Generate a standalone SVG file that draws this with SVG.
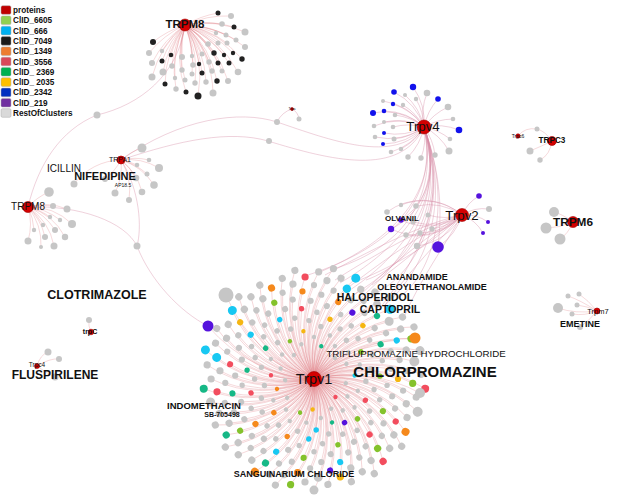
<svg xmlns="http://www.w3.org/2000/svg" width="624" height="495" viewBox="0 0 624 495">
<style>
text{font-family:'Liberation Sans',Arial,sans-serif;fill:#111}
.b{font-weight:bold}
.e{fill:none;stroke:#de7a80;stroke-width:0.5;stroke-opacity:0.55}
.el{fill:none;stroke:#d58aa6;stroke-width:0.6;stroke-opacity:0.65}
.hub{fill:#d40000;stroke:#a00000;stroke-width:0.6}
.g{fill:#c6c6c6}
.n circle{fill:#c6c6c6}
.n circle.r{fill:#f24d5e}.n circle.y{fill:#f5b612}.n circle.t{fill:#16b886}.n circle.a{fill:#84c22c}
.n circle.o{fill:#f5891c}.n circle.b{fill:#18c8f2}.n circle.p{fill:#5512dd}
.k{fill:#222}.u{fill:#1212ec}.pp{fill:#5512dd}
</style>
<rect width="624" height="495" fill="#fff"/>

<g id="legend">
<rect x="1" y="5.7" width="10" height="8.6" rx="1.5" fill="#c00000" stroke="#aaa" stroke-width="0.5"/><text class="b" x="13" y="13" font-size="8.2">proteins</text>
<rect x="1" y="16" width="10" height="8.6" rx="1.5" fill="#92d050" stroke="#aaa" stroke-width="0.5"/><text class="b" x="13" y="23.3" font-size="8.2">ClID_6605</text>
<rect x="1" y="26.3" width="10" height="8.6" rx="1.5" fill="#00b0f0" stroke="#aaa" stroke-width="0.5"/><text class="b" x="13" y="33.6" font-size="8.2">ClID_666</text>
<rect x="1" y="36.6" width="10" height="8.6" rx="1.5" fill="#1a1a1a" stroke="#aaa" stroke-width="0.5"/><text class="b" x="13" y="43.9" font-size="8.2">ClID_7049</text>
<rect x="1" y="46.9" width="10" height="8.6" rx="1.5" fill="#ed7d31" stroke="#aaa" stroke-width="0.5"/><text class="b" x="13" y="54.2" font-size="8.2">ClID_1349</text>
<rect x="1" y="57.2" width="10" height="8.6" rx="1.5" fill="#d9485a" stroke="#aaa" stroke-width="0.5"/><text class="b" x="13" y="64.5" font-size="8.2">ClID_3556</text>
<rect x="1" y="67.5" width="10" height="8.6" rx="1.5" fill="#00b050" stroke="#aaa" stroke-width="0.5"/><text class="b" x="13" y="74.8" font-size="8.2">ClID_ 2369</text>
<rect x="1" y="77.8" width="10" height="8.6" rx="1.5" fill="#ffc000" stroke="#aaa" stroke-width="0.5"/><text class="b" x="13" y="85.1" font-size="8.2">ClID_ 2035</text>
<rect x="1" y="88.1" width="10" height="8.6" rx="1.5" fill="#0030c0" stroke="#aaa" stroke-width="0.5"/><text class="b" x="13" y="95.4" font-size="8.2">ClID_2342</text>
<rect x="1" y="98.4" width="10" height="8.6" rx="1.5" fill="#7030a0" stroke="#aaa" stroke-width="0.5"/><text class="b" x="13" y="105.7" font-size="8.2">ClID_219</text>
<rect x="1" y="108.7" width="10" height="8.6" rx="1.5" fill="#d9d9d9" stroke="#aaa" stroke-width="0.5"/><text class="b" x="13" y="116" font-size="8.2">RestOfClusters</text>
</g>

<g id="connectors">
<g class="el">
<path d="M28 207C38 165 60 130 97 115"/>
<path d="M185 25C178 75 140 105 97 115"/>
<path d="M121 160C180 118 240 110 277 122C330 140 395 165 424 127"/>
<path d="M121 160C180 140 230 130 268 141C330 160 400 178 424 127"/>
<path d="M28 207C80 205 125 222 137 246"/>
<path d="M121 160C140 190 142 228 137 246"/>
<path d="M137 246C150 280 180 312 208 326"/>
<path d="M292 109Q282 112 277 122"/>
<path d="M292 109Q298 112 299 119"/>
<path d="M424 127C440 180 420 215 391 229"/>
<path d="M424 127C440 170 425 205 401 220"/>
<path d="M424 127C445 185 440 225 438 247"/>
<path d="M424 127C442 185 430 225 417 246"/>
<path d="M424 127C448 190 405 245 340 283"/>
<path d="M424 127C446 192 410 250 350 290"/>
<path d="M424 127C444 195 412 255 358 300"/>
<path d="M424 127C440 200 400 250 330 270"/>
<path d="M424 127C450 195 420 260 372 318"/>
<path d="M424 127C448 200 418 262 366 280"/>
<path d="M424 127C452 205 425 270 385 305"/>
<path d="M424 127C445 210 415 260 345 300"/>
<path d="M424 127C440 190 395 240 320 272"/>
<path d="M424 127C455 210 430 280 395 300"/>
<path d="M424 127C438 196 398 246 305 276"/>
<path d="M424 127C450 200 422 268 378 292"/>
<path d="M462 215C430 228 390 255 345 290"/>
<path d="M462 215C432 232 395 262 360 295"/>
<path d="M462 215C430 225 385 248 335 280"/>
<path d="M462 215C440 240 410 270 385 305"/>
<path d="M462 215C435 235 400 265 372 285"/>
<path d="M462 215C445 245 420 280 405 315"/>
<path d="M462 215C428 222 380 245 325 275"/>
<path d="M462 215C438 238 405 262 355 282"/>
</g>
<g class="e">
<path d="M185 25A100 100 0 0 1 218 13"/><path d="M185 25A100 100 0 0 1 231 16"/><path d="M185 25A100 100 0 0 1 222 24"/><path d="M185 25A100 100 0 0 1 234 27"/><path d="M185 25A100 100 0 0 1 245 32"/><path d="M185 25A100 100 0 0 1 216 33"/><path d="M185 25A100 100 0 0 1 226 35"/><path d="M185 25A100 100 0 0 0 153 42"/><path d="M185 25A100 100 0 0 1 208 44"/><path d="M185 25A100 100 0 0 1 218 43"/><path d="M185 25A100 100 0 0 1 227 43"/><path d="M185 25A100 100 0 0 1 236 40"/><path d="M185 25A100 100 0 0 1 245 47"/><path d="M185 25A100 100 0 0 0 162 51"/><path d="M185 25A100 100 0 0 0 149 53"/><path d="M185 25A100 100 0 0 0 171 55"/><path d="M185 25A100 100 0 0 1 192 56"/><path d="M185 25A100 100 0 0 1 202 54"/><path d="M185 25A100 100 0 0 1 214 53"/><path d="M185 25A100 100 0 0 1 224 55"/><path d="M185 25A100 100 0 0 1 233 53"/><path d="M185 25A100 100 0 0 1 242 59"/><path d="M185 25A100 100 0 0 0 162 61"/><path d="M185 25A100 100 0 0 0 152 63"/><path d="M185 25A100 100 0 0 0 182 57"/><path d="M185 25A100 100 0 0 0 172 66"/><path d="M185 25A100 100 0 0 1 193 65"/><path d="M185 25A100 100 0 0 1 199 64"/><path d="M185 25A100 100 0 0 1 209 62"/><path d="M185 25A100 100 0 0 1 218 63"/><path d="M185 25A100 100 0 0 1 229 63"/><path d="M185 25A100 100 0 0 0 163 72"/><path d="M185 25A100 100 0 0 0 152 77"/><path d="M185 25A100 100 0 0 0 182 70"/><path d="M185 25A100 100 0 0 1 192 74"/><path d="M185 25A100 100 0 0 1 202 73"/><path d="M185 25A100 100 0 0 1 212 71"/><path d="M185 25A100 100 0 0 1 222 71"/><path d="M185 25A100 100 0 0 1 238 72"/><path d="M185 25A100 100 0 0 0 175 78"/><path d="M185 25A100 100 0 0 0 185 80"/><path d="M185 25A100 100 0 0 1 195 83"/><path d="M185 25A100 100 0 0 1 206 82"/><path d="M185 25A100 100 0 0 1 217 81"/><path d="M185 25A100 100 0 0 1 228 81"/><path d="M185 25A100 100 0 0 0 165 84"/><path d="M185 25A100 100 0 0 0 176 89"/><path d="M185 25A100 100 0 0 0 186 92"/><path d="M185 25A100 100 0 0 1 198 96"/><path d="M185 25A100 100 0 0 1 213 93"/>
</g>
<g class="e">
<path d="M28 207A60 60 0 0 1 49 192"/><path d="M28 207A60 60 0 0 1 53 206"/><path d="M28 207A60 60 0 0 1 67 209"/><path d="M28 207A60 60 0 0 1 50 217"/><path d="M28 207A60 60 0 0 1 60 220"/><path d="M28 207A60 60 0 0 1 43 225"/><path d="M28 207A60 60 0 0 1 72 224"/><path d="M28 207A60 60 0 0 1 34 230"/><path d="M28 207A60 60 0 0 1 45 237"/><path d="M28 207A60 60 0 0 1 55 230"/><path d="M28 207A60 60 0 0 1 65 237"/><path d="M28 207A60 60 0 0 1 28 241"/><path d="M28 207A60 60 0 0 1 41 247"/><path d="M28 207A60 60 0 0 1 54 246"/>
<path d="M121 160A60 60 0 0 1 142 148"/><path d="M121 160A60 60 0 0 1 149 160"/><path d="M121 160A60 60 0 0 1 159 168"/><path d="M121 160A60 60 0 0 1 137 165"/><path d="M121 160A60 60 0 0 1 147 174"/><path d="M121 160A60 60 0 0 1 136 178"/><path d="M121 160A60 60 0 0 1 154 185"/><path d="M121 160A60 60 0 0 1 142 192"/><path d="M121 160A60 60 0 0 1 129 200"/><path d="M121 160A60 60 0 0 1 115 193"/><path d="M121 160A60 60 0 0 1 105 179"/><path d="M121 160A60 60 0 0 0 74 184"/>
</g>
<g class="el">
<path d="M424 127A60 60 0 0 0 413 87"/><path d="M424 127A60 60 0 0 0 394 92"/><path d="M424 127A60 60 0 0 0 405 95"/><path d="M424 127A60 60 0 0 1 427 93"/><path d="M424 127A60 60 0 0 1 438 99"/><path d="M424 127A60 60 0 0 0 383 101"/><path d="M424 127A60 60 0 0 0 393 104"/><path d="M424 127A60 60 0 0 0 403 105"/><path d="M424 127A60 60 0 0 0 416 99"/><path d="M424 127A60 60 0 0 0 373 113"/><path d="M424 127A60 60 0 0 0 384 111"/><path d="M424 127A60 60 0 0 0 395 115"/><path d="M424 127A60 60 0 0 1 448 107"/><path d="M424 127A60 60 0 0 1 453 119"/><path d="M424 127A60 60 0 0 1 459 130"/><path d="M424 127A60 60 0 0 0 374 126"/><path d="M424 127A60 60 0 0 0 384 122"/><path d="M424 127A60 60 0 0 0 393 127"/><path d="M424 127A60 60 0 0 1 384 133"/><path d="M424 127A60 60 0 0 1 375 137"/><path d="M424 127A60 60 0 0 1 394 139"/><path d="M424 127A60 60 0 0 1 383 144"/><path d="M424 127A60 60 0 0 1 450 139"/><path d="M424 127A60 60 0 0 1 401 149"/><path d="M424 127A60 60 0 0 1 391 152"/><path d="M424 127A60 60 0 0 1 449 151"/><path d="M424 127A60 60 0 0 1 408 157"/><path d="M424 127A60 60 0 0 1 421 158"/><path d="M424 127A60 60 0 0 1 435 155"/>
<path d="M462 215A40 40 0 0 1 479 196"/><path d="M462 215A40 40 0 0 1 489 209"/><path d="M462 215A40 40 0 0 1 488 222"/><path d="M462 215A40 40 0 0 1 483 233"/><path d="M462 215A60 60 0 0 0 401 205"/><path d="M462 215A60 60 0 0 0 416 206"/><path d="M462 215A60 60 0 0 0 387 212"/><path d="M462 215A60 60 0 0 1 401 220"/><path d="M462 215A60 60 0 0 1 413 222"/><path d="M462 215A60 60 0 0 1 428 215"/><path d="M462 215A60 60 0 0 1 391 229"/><path d="M462 215A60 60 0 0 1 406 235"/><path d="M462 215A60 60 0 0 1 420 233"/><path d="M462 215A60 60 0 0 1 432 229"/><path d="M462 215A60 60 0 0 1 417 246"/><path d="M462 215A60 60 0 0 1 438 247"/>
</g>
<g class="e" stroke-opacity="0.8">
<path d="M518 136Q525 127 537 129"/><path d="M552 141Q545 131 537 129"/><path d="M552 141Q542 146 530 151"/><path d="M552 141Q550 155 540 160"/>
<path d="M573 222Q562 214 554 212"/><path d="M573 222Q560 228 546 228"/><path d="M573 222Q568 234 560 239"/>
<path d="M597 311Q580 300 568 296"/><path d="M597 311Q588 300 579 294"/><path d="M597 311Q587 306 577 305"/><path d="M597 311Q575 314 558 308"/><path d="M597 311Q585 316 572 314"/><path d="M597 311Q588 322 580 327"/>
<path d="M91 332Q88 326 89 320"/>
<path d="M37 366Q40 355 48 352"/><path d="M37 366Q50 358 59 359"/><path d="M37 366Q48 374 55 377"/>
</g>
<g class="e" transform="translate(314 379)" stroke-opacity="0.6">
<path d="M0 0A120 120 0 0 1 28 0" transform="rotate(2200)"/>
<path d="M0 0A120 120 0 0 1 28.9 0" transform="rotate(2337.5)"/>
<path d="M0 0A120 120 0 0 1 29.7 0" transform="rotate(2475)"/>
<path d="M0 0A120 120 0 0 1 30.5 0" transform="rotate(2612.5)"/>
<path d="M0 0A120 120 0 0 1 31.3 0" transform="rotate(2750)"/>
<path d="M0 0A120 120 0 0 1 32.1 0" transform="rotate(2887.5)"/>
<path d="M0 0A120 120 0 0 1 32.8 0" transform="rotate(3025)"/>
<path d="M0 0A120 120 0 0 1 33.6 0" transform="rotate(3162.5)"/>
<path d="M0 0A120 120 0 0 1 34.3 0" transform="rotate(3300)"/>
<path d="M0 0A120 120 0 0 1 35 0" transform="rotate(3437.5)"/>
<path d="M0 0A120 120 0 0 1 35.7 0" transform="rotate(3575)"/>
<path d="M0 0A120 120 0 0 1 36.4 0" transform="rotate(3712.5)"/>
<path d="M0 0A120 120 0 0 1 37 0" transform="rotate(3850)"/>
<path d="M0 0A120 120 0 0 1 37.7 0" transform="rotate(3987.5)"/>
<path d="M0 0A120 120 0 0 1 38.3 0" transform="rotate(4125)"/>
<path d="M0 0A120 120 0 0 1 39 0" transform="rotate(4262.5)"/>
<path d="M0 0A120 120 0 0 1 39.6 0" transform="rotate(4400)"/>
<path d="M0 0A120 120 0 0 1 40.2 0" transform="rotate(4537.5)"/>
<path d="M0 0A120 120 0 0 1 40.8 0" transform="rotate(4675)"/>
<path d="M0 0A120 120 0 0 1 41.4 0" transform="rotate(4812.5)"/>
<path d="M0 0A120 120 0 0 1 42 0" transform="rotate(4950)"/>
<path d="M0 0A120 120 0 0 1 42.6 0" transform="rotate(5087.5)"/>
<path d="M0 0A120 120 0 0 1 43.2 0" transform="rotate(5225)"/>
<path d="M0 0A120 120 0 0 1 43.7 0" transform="rotate(5362.5)"/>
<path d="M0 0A120 120 0 0 1 44.3 0" transform="rotate(5500)"/>
<path d="M0 0A120 120 0 0 1 44.8 0" transform="rotate(5637.5)"/>
<path d="M0 0A120 120 0 0 1 45.4 0" transform="rotate(5775)"/>
<path d="M0 0A120 120 0 0 1 45.9 0" transform="rotate(5912.5)"/>
<path d="M0 0A120 120 0 0 1 46.4 0" transform="rotate(6050)"/>
<path d="M0 0A120 120 0 0 1 47 0" transform="rotate(6187.5)"/>
<path d="M0 0A120 120 0 0 1 47.5 0" transform="rotate(6325)"/>
<path d="M0 0A120 120 0 0 1 48 0" transform="rotate(6462.5)"/>
<path d="M0 0A120 120 0 0 1 48.5 0" transform="rotate(6600)"/>
<path d="M0 0A120 120 0 0 1 49 0" transform="rotate(6737.5)"/>
<path d="M0 0A120 120 0 0 1 49.5 0" transform="rotate(6875)"/>
<path d="M0 0A120 120 0 0 1 50 0" transform="rotate(7012.5)"/>
<path d="M0 0A120 120 0 0 1 50.5 0" transform="rotate(7150)"/>
<path d="M0 0A120 120 0 0 1 51 0" transform="rotate(7287.5)"/>
<path d="M0 0A120 120 0 0 1 51.4 0" transform="rotate(7425)"/>
<path d="M0 0A120 120 0 0 1 51.9 0" transform="rotate(7562.5)"/>
<path d="M0 0A120 120 0 0 1 52.4 0" transform="rotate(7700)"/>
<path d="M0 0A120 120 0 0 1 52.9 0" transform="rotate(7837.5)"/>
<path d="M0 0A120 120 0 0 1 53.3 0" transform="rotate(7975)"/>
<path d="M0 0A120 120 0 0 1 53.8 0" transform="rotate(8112.5)"/>
<path d="M0 0A120 120 0 0 1 54.2 0" transform="rotate(8250)"/>
<path d="M0 0A120 120 0 0 1 54.7 0" transform="rotate(8387.5)"/>
<path d="M0 0A120 120 0 0 1 55.1 0" transform="rotate(8525)"/>
<path d="M0 0A120 120 0 0 1 55.6 0" transform="rotate(8662.5)"/>
<path d="M0 0A120 120 0 0 1 56 0" transform="rotate(8800)"/>
<path d="M0 0A120 120 0 0 1 56.4 0" transform="rotate(8937.5)"/>
<path d="M0 0A120 120 0 0 1 56.9 0" transform="rotate(9075)"/>
<path d="M0 0A120 120 0 0 1 57.3 0" transform="rotate(9212.5)"/>
<path d="M0 0A120 120 0 0 1 57.7 0" transform="rotate(9350)"/>
<path d="M0 0A120 120 0 0 1 58.2 0" transform="rotate(9487.5)"/>
<path d="M0 0A120 120 0 0 1 58.6 0" transform="rotate(9625)"/>
<path d="M0 0A120 120 0 0 1 59 0" transform="rotate(9762.5)"/>
<path d="M0 0A120 120 0 0 1 59.4 0" transform="rotate(9900)"/>
<path d="M0 0A120 120 0 0 1 59.8 0" transform="rotate(10037.5)"/>
<path d="M0 0A120 120 0 0 1 60.2 0" transform="rotate(10175)"/>
<path d="M0 0A120 120 0 0 1 60.6 0" transform="rotate(10312.5)"/>
<path d="M0 0A120 120 0 0 1 61 0" transform="rotate(10450)"/>
<path d="M0 0A120 120 0 0 1 61.4 0" transform="rotate(10587.5)"/>
<path d="M0 0A120 120 0 0 1 61.8 0" transform="rotate(10725)"/>
<path d="M0 0A120 120 0 0 1 62.2 0" transform="rotate(10862.5)"/>
<path d="M0 0A120 120 0 0 1 62.6 0" transform="rotate(11000)"/>
<path d="M0 0A120 120 0 0 1 63 0" transform="rotate(11137.5)"/>
<path d="M0 0A120 120 0 0 1 63.4 0" transform="rotate(11275)"/>
<path d="M0 0A120 120 0 0 1 63.8 0" transform="rotate(11412.5)"/>
<path d="M0 0A120 120 0 0 1 64.2 0" transform="rotate(11550)"/>
<path d="M0 0A120 120 0 0 1 64.5 0" transform="rotate(11687.5)"/>
<path d="M0 0A120 120 0 0 1 64.9 0" transform="rotate(11825)"/>
<path d="M0 0A120 120 0 0 1 65.3 0" transform="rotate(11962.5)"/>
<path d="M0 0A120 120 0 0 1 65.7 0" transform="rotate(12100)"/>
<path d="M0 0A120 120 0 0 1 66 0" transform="rotate(12237.5)"/>
<path d="M0 0A120 120 0 0 1 66.4 0" transform="rotate(12375)"/>
<path d="M0 0A120 120 0 0 1 66.8 0" transform="rotate(12512.5)"/>
<path d="M0 0A120 120 0 0 1 67.1 0" transform="rotate(12650)"/>
<path d="M0 0A120 120 0 0 1 67.5 0" transform="rotate(12787.5)"/>
<path d="M0 0A120 120 0 0 1 67.9 0" transform="rotate(12925)"/>
<path d="M0 0A120 120 0 0 1 68.2 0" transform="rotate(13062.5)"/>
<path d="M0 0A120 120 0 0 1 68.6 0" transform="rotate(13200)"/>
<path d="M0 0A120 120 0 0 1 68.9 0" transform="rotate(13337.5)"/>
<path d="M0 0A120 120 0 0 1 69.3 0" transform="rotate(13475)"/>
<path d="M0 0A120 120 0 0 1 69.7 0" transform="rotate(13612.5)"/>
<path d="M0 0A120 120 0 0 1 70 0" transform="rotate(13750)"/>
<path d="M0 0A120 120 0 0 1 70.4 0" transform="rotate(13887.5)"/>
<path d="M0 0A120 120 0 0 1 70.7 0" transform="rotate(14025)"/>
<path d="M0 0A120 120 0 0 1 71 0" transform="rotate(14162.5)"/>
<path d="M0 0A120 120 0 0 1 71.4 0" transform="rotate(14300)"/>
<path d="M0 0A120 120 0 0 1 71.7 0" transform="rotate(14437.5)"/>
<path d="M0 0A120 120 0 0 1 72.1 0" transform="rotate(14575)"/>
<path d="M0 0A120 120 0 0 1 72.4 0" transform="rotate(14712.5)"/>
<path d="M0 0A120 120 0 0 1 72.8 0" transform="rotate(14850)"/>
<path d="M0 0A120 120 0 0 1 73.1 0" transform="rotate(14987.5)"/>
<path d="M0 0A120 120 0 0 1 73.4 0" transform="rotate(15125)"/>
<path d="M0 0A120 120 0 0 1 73.8 0" transform="rotate(15262.5)"/>
<path d="M0 0A120 120 0 0 1 74.1 0" transform="rotate(15400)"/>
<path d="M0 0A120 120 0 0 1 74.4 0" transform="rotate(15537.5)"/>
<path d="M0 0A120 120 0 0 1 74.7 0" transform="rotate(15675)"/>
<path d="M0 0A120 120 0 0 1 75.1 0" transform="rotate(15812.5)"/>
<path d="M0 0A120 120 0 0 1 75.4 0" transform="rotate(15950)"/>
<path d="M0 0A120 120 0 0 1 75.7 0" transform="rotate(16087.5)"/>
<path d="M0 0A120 120 0 0 1 76 0" transform="rotate(16225)"/>
<path d="M0 0A120 120 0 0 1 76.4 0" transform="rotate(16362.5)"/>
<path d="M0 0A120 120 0 0 1 76.7 0" transform="rotate(16500)"/>
<path d="M0 0A120 120 0 0 1 77 0" transform="rotate(16637.5)"/>
<path d="M0 0A120 120 0 0 1 77.3 0" transform="rotate(16775)"/>
<path d="M0 0A120 120 0 0 1 77.6 0" transform="rotate(16912.5)"/>
<path d="M0 0A120 120 0 0 1 78 0" transform="rotate(17050)"/>
<path d="M0 0A120 120 0 0 1 78.3 0" transform="rotate(17187.5)"/>
<path d="M0 0A120 120 0 0 1 78.6 0" transform="rotate(17325)"/>
<path d="M0 0A120 120 0 0 1 78.9 0" transform="rotate(17462.5)"/>
<path d="M0 0A120 120 0 0 1 79.2 0" transform="rotate(17600)"/>
<path d="M0 0A120 120 0 0 1 79.5 0" transform="rotate(17737.5)"/>
<path d="M0 0A120 120 0 0 1 79.8 0" transform="rotate(17875)"/>
<path d="M0 0A120 120 0 0 1 80.1 0" transform="rotate(18012.5)"/>
<path d="M0 0A120 120 0 0 1 80.4 0" transform="rotate(18150)"/>
<path d="M0 0A120 120 0 0 1 80.7 0" transform="rotate(18287.5)"/>
<path d="M0 0A120 120 0 0 1 81 0" transform="rotate(18425)"/>
<path d="M0 0A120 120 0 0 1 81.3 0" transform="rotate(18562.5)"/>
<path d="M0 0A120 120 0 0 1 81.6 0" transform="rotate(18700)"/>
<path d="M0 0A120 120 0 0 1 81.9 0" transform="rotate(18837.5)"/>
<path d="M0 0A120 120 0 0 1 82.2 0" transform="rotate(18975)"/>
<path d="M0 0A120 120 0 0 1 82.5 0" transform="rotate(19112.5)"/>
<path d="M0 0A120 120 0 0 1 82.8 0" transform="rotate(19250)"/>
<path d="M0 0A120 120 0 0 1 83.1 0" transform="rotate(19387.5)"/>
<path d="M0 0A120 120 0 0 1 83.4 0" transform="rotate(19525)"/>
<path d="M0 0A120 120 0 0 1 83.7 0" transform="rotate(19662.5)"/>
<path d="M0 0A120 120 0 0 1 84 0" transform="rotate(19800)"/>
<path d="M0 0A120 120 0 0 1 84.3 0" transform="rotate(19937.5)"/>
<path d="M0 0A120 120 0 0 1 84.6 0" transform="rotate(20075)"/>
<path d="M0 0A120 120 0 0 1 84.9 0" transform="rotate(20212.5)"/>
<path d="M0 0A120 120 0 0 1 85.2 0" transform="rotate(20350)"/>
<path d="M0 0A120 120 0 0 1 85.4 0" transform="rotate(20487.5)"/>
<path d="M0 0A120 120 0 0 1 85.7 0" transform="rotate(20625)"/>
<path d="M0 0A120 120 0 0 1 86 0" transform="rotate(20762.5)"/>
<path d="M0 0A120 120 0 0 1 86.3 0" transform="rotate(20900)"/>
<path d="M0 0A120 120 0 0 1 86.6 0" transform="rotate(21037.5)"/>
<path d="M0 0A120 120 0 0 1 86.9 0" transform="rotate(21175)"/>
<path d="M0 0A120 120 0 0 1 87.1 0" transform="rotate(21312.5)"/>
<path d="M0 0A120 120 0 0 1 87.4 0" transform="rotate(21450)"/>
<path d="M0 0A120 120 0 0 1 87.7 0" transform="rotate(21587.5)"/>
<path d="M0 0A120 120 0 0 1 88 0" transform="rotate(21725)"/>
<path d="M0 0A120 120 0 0 1 88.3 0" transform="rotate(21862.5)"/>
<path d="M0 0A120 120 0 0 1 88.5 0" transform="rotate(22000)"/>
<path d="M0 0A120 120 0 0 1 88.8 0" transform="rotate(22137.5)"/>
<path d="M0 0A120 120 0 0 1 89.1 0" transform="rotate(22275)"/>
<path d="M0 0A120 120 0 0 1 89.4 0" transform="rotate(22412.5)"/>
<path d="M0 0A120 120 0 0 1 89.6 0" transform="rotate(22550)"/>
<path d="M0 0A120 120 0 0 1 89.9 0" transform="rotate(22687.5)"/>
<path d="M0 0A120 120 0 0 1 90.2 0" transform="rotate(22825)"/>
<path d="M0 0A120 120 0 0 1 90.5 0" transform="rotate(22962.5)"/>
<path d="M0 0A120 120 0 0 1 90.7 0" transform="rotate(23100)"/>
<path d="M0 0A120 120 0 0 1 91 0" transform="rotate(23237.5)"/>
<path d="M0 0A120 120 0 0 1 91.3 0" transform="rotate(23375)"/>
<path d="M0 0A120 120 0 0 1 91.5 0" transform="rotate(23512.5)"/>
<path d="M0 0A120 120 0 0 1 91.8 0" transform="rotate(23650)"/>
<path d="M0 0A120 120 0 0 1 92.1 0" transform="rotate(23787.5)"/>
<path d="M0 0A120 120 0 0 1 92.3 0" transform="rotate(23925)"/>
<path d="M0 0A120 120 0 0 1 92.6 0" transform="rotate(24062.5)"/>
<path d="M0 0A120 120 0 0 1 92.9 0" transform="rotate(24200)"/>
<path d="M0 0A120 120 0 0 1 93.1 0" transform="rotate(24337.5)"/>
<path d="M0 0A120 120 0 0 1 93.4 0" transform="rotate(24475)"/>
<path d="M0 0A120 120 0 0 1 93.7 0" transform="rotate(24612.5)"/>
<path d="M0 0A120 120 0 0 1 93.9 0" transform="rotate(24750)"/>
<path d="M0 0A120 120 0 0 1 94.2 0" transform="rotate(24887.5)"/>
<path d="M0 0A120 120 0 0 1 94.4 0" transform="rotate(25025)"/>
<path d="M0 0A120 120 0 0 1 94.7 0" transform="rotate(25162.5)"/>
<path d="M0 0A120 120 0 0 1 95 0" transform="rotate(25300)"/>
<path d="M0 0A120 120 0 0 1 95.2 0" transform="rotate(25437.5)"/>
<path d="M0 0A120 120 0 0 1 95.5 0" transform="rotate(25575)"/>
<path d="M0 0A120 120 0 0 1 95.7 0" transform="rotate(25712.5)"/>
<path d="M0 0A120 120 0 0 1 96 0" transform="rotate(25850)"/>
<path d="M0 0A120 120 0 0 1 96.2 0" transform="rotate(25987.5)"/>
<path d="M0 0A120 120 0 0 1 96.5 0" transform="rotate(26125)"/>
<path d="M0 0A120 120 0 0 1 96.7 0" transform="rotate(26262.5)"/>
<path d="M0 0A120 120 0 0 1 97 0" transform="rotate(26400)"/>
<path d="M0 0A120 120 0 0 1 97.2 0" transform="rotate(26537.5)"/>
<path d="M0 0A120 120 0 0 1 97.5 0" transform="rotate(26675)"/>
<path d="M0 0A120 120 0 0 1 97.8 0" transform="rotate(26812.5)"/>
<path d="M0 0A120 120 0 0 1 98 0" transform="rotate(26950)"/>
<path d="M0 0A120 120 0 0 1 98.3 0" transform="rotate(27087.5)"/>
<path d="M0 0A120 120 0 0 1 98.5 0" transform="rotate(27225)"/>
<path d="M0 0A120 120 0 0 1 98.8 0" transform="rotate(27362.5)"/>
<path d="M0 0A120 120 0 0 1 99 0" transform="rotate(27500)"/>
<path d="M0 0A120 120 0 0 1 99.2 0" transform="rotate(27637.5)"/>
<path d="M0 0A120 120 0 0 1 99.5 0" transform="rotate(27775)"/>
<path d="M0 0A120 120 0 0 1 99.7 0" transform="rotate(27912.5)"/>
<path d="M0 0A120 120 0 0 1 100 0" transform="rotate(28050)"/>
<path d="M0 0A120 120 0 0 1 100.2 0" transform="rotate(28187.5)"/>
<path d="M0 0A120 120 0 0 1 100.5 0" transform="rotate(28325)"/>
<path d="M0 0A120 120 0 0 1 100.7 0" transform="rotate(28462.5)"/>
<path d="M0 0A120 120 0 0 1 101 0" transform="rotate(28600)"/>
<path d="M0 0A120 120 0 0 1 101.2 0" transform="rotate(28737.5)"/>
<path d="M0 0A120 120 0 0 1 101.4 0" transform="rotate(28875)"/>
<path d="M0 0A120 120 0 0 1 101.7 0" transform="rotate(29012.5)"/>
<path d="M0 0A120 120 0 0 1 101.9 0" transform="rotate(29150)"/>
<path d="M0 0A120 120 0 0 1 102.2 0" transform="rotate(29287.5)"/>
<path d="M0 0A120 120 0 0 1 102.4 0" transform="rotate(29425)"/>
<path d="M0 0A120 120 0 0 1 102.6 0" transform="rotate(29562.5)"/>
<path d="M0 0A120 120 0 0 1 102.9 0" transform="rotate(29700)"/>
<path d="M0 0A120 120 0 0 1 103.1 0" transform="rotate(29837.5)"/>
<path d="M0 0A120 120 0 0 1 103.4 0" transform="rotate(29975)"/>
<path d="M0 0A120 120 0 0 1 103.6 0" transform="rotate(30112.5)"/>
<path d="M0 0A120 120 0 0 1 103.8 0" transform="rotate(30250)"/>
<path d="M0 0A120 120 0 0 1 104.1 0" transform="rotate(30387.5)"/>
<path d="M0 0A120 120 0 0 1 104.3 0" transform="rotate(30525)"/>
<path d="M0 0A120 120 0 0 1 104.5 0" transform="rotate(30662.5)"/>
<path d="M0 0A120 120 0 0 1 104.8 0" transform="rotate(30800)"/>
<path d="M0 0A120 120 0 0 1 105 0" transform="rotate(30937.5)"/>
<path d="M0 0A120 120 0 0 1 105.2 0" transform="rotate(31075)"/>
<path d="M0 0A120 120 0 0 1 105.5 0" transform="rotate(31212.5)"/>
<path d="M0 0A120 120 0 0 1 105.7 0" transform="rotate(31350)"/>
<path d="M0 0A120 120 0 0 1 105.9 0" transform="rotate(31487.5)"/>
<path d="M0 0A120 120 0 0 1 106.2 0" transform="rotate(31625)"/>
<path d="M0 0A120 120 0 0 1 106.4 0" transform="rotate(31762.5)"/>
<path d="M0 0A120 120 0 0 1 106.6 0" transform="rotate(31900)"/>
<path d="M0 0A120 120 0 0 1 106.9 0" transform="rotate(32037.5)"/>
<path d="M0 0A120 120 0 0 1 107.1 0" transform="rotate(32175)"/>
<path d="M0 0A120 120 0 0 1 107.3 0" transform="rotate(32312.5)"/>
<path d="M0 0A120 120 0 0 1 107.5 0" transform="rotate(32450)"/>
<path d="M0 0A120 120 0 0 1 107.8 0" transform="rotate(32587.5)"/>
<path d="M0 0A120 120 0 0 1 108 0" transform="rotate(32725)"/>
<path d="M0 0A120 120 0 0 1 108.2 0" transform="rotate(32862.5)"/>
<path d="M0 0A120 120 0 0 1 108.4 0" transform="rotate(33000)"/>
<path d="M0 0A120 120 0 0 1 108.7 0" transform="rotate(33137.5)"/>
<path d="M0 0A120 120 0 0 1 108.9 0" transform="rotate(33275)"/>
<path d="M0 0A120 120 0 0 1 109.1 0" transform="rotate(33412.5)"/>
<path d="M0 0A120 120 0 0 1 109.3 0" transform="rotate(33550)"/>
<path d="M0 0A120 120 0 0 1 109.6 0" transform="rotate(33687.5)"/>
<path d="M0 0A120 120 0 0 1 109.8 0" transform="rotate(33825)"/>
<path d="M0 0A120 120 0 0 1 110 0" transform="rotate(33962.5)"/>
<path d="M0 0A120 120 0 0 1 110.2 0" transform="rotate(34100)"/>
<path d="M0 0A120 120 0 0 1 110.5 0" transform="rotate(34237.5)"/>
<path d="M0 0A120 120 0 0 1 110.7 0" transform="rotate(34375)"/>
<path d="M0 0A120 120 0 0 1 110.9 0" transform="rotate(34512.5)"/>
<path d="M0 0A120 120 0 0 1 111.1 0" transform="rotate(34650)"/>
<path d="M0 0A120 120 0 0 1 111.3 0" transform="rotate(34787.5)"/>
<path d="M0 0A120 120 0 0 1 111.6 0" transform="rotate(34925)"/>
<path d="M0 0A120 120 0 0 1 111.8 0" transform="rotate(35062.5)"/>
<path d="M0 0A120 120 0 0 1 112 0" transform="rotate(35200)"/>
<path d="M0 0A120 120 0 0 1 112.2 0" transform="rotate(35337.5)"/>
<path d="M0 0A120 120 0 0 1 112.4 0" transform="rotate(35475)"/>
<path d="M0 0A120 120 0 0 1 112.7 0" transform="rotate(35612.5)"/>
<path d="M0 0A120 120 0 0 1 112.9 0" transform="rotate(35750)"/>
<path d="M0 0A150 150 0 0 1 -88 -84"/>
<path d="M0 0A150 150 0 0 1 -106 -53"/>
<path d="M0 0A150 150 0 0 1 101 -41"/>
<path d="M0 0A150 150 0 0 1 106 14"/>
</g>
</g>

<g id="nodes">
<g id="cluster-trpm8-top">
<circle class="k" cx="218" cy="13" r="2.5"/><circle class="g" cx="231" cy="16" r="3"/><circle class="g" cx="222" cy="24" r="2.8"/><circle class="k" cx="234" cy="27" r="2.5"/><circle class="g" cx="245" cy="32" r="3.5"/><circle class="g" cx="216" cy="33" r="2.2"/><circle class="g" cx="226" cy="35" r="2.5"/><circle class="k" cx="153" cy="42" r="3"/><circle class="g" cx="208" cy="44" r="2.8"/><circle class="g" cx="218" cy="43" r="2.5"/><circle class="g" cx="227" cy="43" r="2.5"/><circle class="g" cx="236" cy="40" r="2.5"/><circle class="g" cx="245" cy="47" r="3"/><circle class="g" cx="162" cy="51" r="2.2"/><circle class="g" cx="149" cy="53" r="3"/><circle class="k" cx="171" cy="55" r="2.3"/><circle class="g" cx="192" cy="56" r="2.2"/><circle class="g" cx="202" cy="54" r="2.5"/><circle class="k" cx="214" cy="53" r="2.7"/><circle class="k" cx="224" cy="55" r="2.2"/><circle class="k" cx="233" cy="53" r="2.2"/><circle class="k" cx="242" cy="59" r="2.7"/><circle class="k" cx="162" cy="61" r="2.5"/><circle class="g" cx="152" cy="63" r="3"/><circle class="g" cx="182" cy="57" r="3"/><circle class="g" cx="172" cy="66" r="2.8"/><circle class="g" cx="193" cy="65" r="2.8"/><circle class="k" cx="199" cy="64" r="2.2"/><circle class="g" cx="209" cy="62" r="2.7"/><circle class="k" cx="218" cy="63" r="2.5"/><circle class="k" cx="229" cy="63" r="2.5"/><circle class="g" cx="163" cy="72" r="3.5"/><circle class="g" cx="152" cy="77" r="3.5"/><circle class="g" cx="182" cy="70" r="2.7"/><circle class="g" cx="192" cy="74" r="2.5"/><circle class="k" cx="202" cy="73" r="2.5"/><circle class="g" cx="212" cy="71" r="2.7"/><circle class="g" cx="222" cy="71" r="2.5"/><circle class="g" cx="238" cy="72" r="3.3"/><circle class="g" cx="175" cy="78" r="2.2"/><circle class="g" cx="185" cy="80" r="2.5"/><circle class="g" cx="195" cy="83" r="2.7"/><circle class="g" cx="206" cy="82" r="2.7"/><circle class="k" cx="217" cy="81" r="2.7"/><circle class="g" cx="228" cy="81" r="3"/><circle class="k" cx="165" cy="84" r="2.5"/><circle class="g" cx="176" cy="89" r="2.7"/><circle class="k" cx="186" cy="92" r="2.5"/><circle class="k" cx="198" cy="96" r="3.5"/><circle class="g" cx="213" cy="93" r="3.5"/>
</g>
<g id="cluster-trpm8-left">
<circle class="g" cx="49" cy="192" r="4.8"/><circle class="g" cx="53" cy="206" r="3"/><circle class="g" cx="67" cy="209" r="3.5"/><circle class="g" cx="50" cy="217" r="2.2"/><circle class="g" cx="60" cy="220" r="2.2"/><circle class="g" cx="43" cy="225" r="2.2"/><circle class="g" cx="72" cy="224" r="4"/><circle class="g" cx="34" cy="230" r="2.2"/><circle class="g" cx="45" cy="237" r="3"/><circle class="g" cx="55" cy="230" r="3"/><circle class="g" cx="65" cy="237" r="3.2"/><circle class="g" cx="28" cy="241" r="3.5"/><circle class="g" cx="41" cy="247" r="2"/><circle class="g" cx="54" cy="246" r="3.5"/>
<circle class="g" cx="137" cy="246" r="3.5"/><circle class="g" cx="97" cy="115" r="3.5"/>
</g>
<g id="cluster-trpa1">
<circle class="g" cx="142" cy="148" r="4.5"/><circle class="g" cx="149" cy="160" r="2.3"/><circle class="g" cx="159" cy="168" r="4"/><circle class="g" cx="137" cy="165" r="2.3"/><circle class="g" cx="147" cy="174" r="2.5"/><circle class="g" cx="136" cy="178" r="3.3"/><circle class="g" cx="154" cy="185" r="3.8"/><circle class="g" cx="142" cy="192" r="3.3"/><circle class="g" cx="129" cy="200" r="3"/><circle class="g" cx="115" cy="193" r="3.5"/><circle class="g" cx="105" cy="179" r="3"/><circle class="g" cx="74" cy="184" r="3.5"/>
</g>
<g id="cluster-small-trp">
<circle class="g" cx="277" cy="122" r="3"/><circle class="g" cx="299" cy="119" r="2.5"/><circle class="g" cx="269" cy="141" r="3"/>
</g>
<g id="cluster-trpv4">
<circle class="u" cx="413" cy="87" r="3.2"/><circle class="u" cx="394" cy="92" r="2.8"/><circle class="g" cx="405" cy="95" r="2"/><circle class="g" cx="427" cy="93" r="3.3"/><circle class="u" cx="438" cy="99" r="2.8"/><circle class="g" cx="383" cy="101" r="2"/><circle class="u" cx="393" cy="104" r="2.2"/><circle class="g" cx="403" cy="105" r="2.2"/><circle class="g" cx="416" cy="99" r="2.2"/><circle class="u" cx="373" cy="113" r="3"/><circle class="u" cx="384" cy="111" r="2.3"/><circle class="g" cx="395" cy="115" r="2.3"/><circle class="g" cx="448" cy="107" r="3.3"/><circle class="g" cx="453" cy="119" r="2.3"/><circle class="u" cx="459" cy="130" r="3.3"/><circle class="g" cx="374" cy="126" r="2.3"/><circle class="g" cx="384" cy="122" r="2"/><circle class="g" cx="393" cy="127" r="2.3"/><circle class="u" cx="384" cy="133" r="2"/><circle class="g" cx="375" cy="137" r="2.3"/><circle class="g" cx="394" cy="139" r="2.5"/><circle class="u" cx="383" cy="144" r="2"/><circle class="g" cx="450" cy="139" r="2.3"/><circle class="g" cx="401" cy="149" r="2.3"/><circle class="g" cx="391" cy="152" r="2.3"/><circle class="g" cx="449" cy="151" r="3.5"/><circle class="g" cx="408" cy="157" r="2.7"/><circle class="g" cx="421" cy="158" r="2.7"/><circle class="g" cx="435" cy="155" r="2.7"/>
</g>
<g id="cluster-trpv2">
<circle class="pp" cx="479" cy="196" r="2.8"/><circle class="g" cx="489" cy="209" r="3"/><circle class="pp" cx="488" cy="222" r="2"/><circle class="pp" cx="483" cy="233" r="2"/><circle class="g" cx="401" cy="205" r="2.2"/><circle class="g" cx="416" cy="206" r="2.8"/><circle class="g" cx="387" cy="212" r="2.8"/><circle class="pp" cx="401" cy="220" r="2.8"/><circle class="g" cx="413" cy="222" r="2.5"/><circle class="g" cx="428" cy="215" r="2.5"/><circle class="pp" cx="391" cy="229" r="3.2"/><circle class="g" cx="406" cy="235" r="2.7"/><circle class="g" cx="420" cy="233" r="2.7"/><circle class="g" cx="432" cy="229" r="2.7"/><circle class="g" cx="417" cy="246" r="3.2"/><circle class="pp" cx="438" cy="247" r="5.8"/>
</g>
<g id="cluster-others">
<circle class="g" cx="537" cy="129" r="2.5"/><circle class="g" cx="530" cy="151" r="3.5"/><circle class="g" cx="540" cy="160" r="2.7"/>
<circle class="g" cx="554" cy="212" r="5"/><circle class="g" cx="546" cy="228" r="5.5"/><circle class="g" cx="560" cy="239" r="5.5"/>
<circle class="g" cx="568" cy="296" r="2.5"/><circle class="g" cx="579" cy="294" r="2.5"/><circle class="g" cx="577" cy="305" r="2.5"/><circle class="g" cx="558" cy="308" r="5"/><circle class="g" cx="572" cy="314" r="2.5"/><circle class="g" cx="580" cy="327" r="3"/>
<circle class="g" cx="89" cy="320" r="3"/>
<circle class="g" cx="48" cy="352" r="3.5"/><circle class="g" cx="59" cy="359" r="3"/><circle class="g" cx="55" cy="377" r="3.5"/>
</g>
<g id="cluster-trpv1" class="n" transform="translate(314 379)">
<circle class="r" cx="28" r="2.2" transform="rotate(2200)"/>
<circle cx="28.9" r="2.2" transform="rotate(2337.5)"/>
<circle cx="29.7" r="2.2" transform="rotate(2475)"/>
<circle class="y" cx="30.5" r="2.2" transform="rotate(2612.5)"/>
<circle cx="31.3" r="2.2" transform="rotate(2750)"/>
<circle cx="32.1" r="2.2" transform="rotate(2887.5)"/>
<circle cx="32.8" r="2.2" transform="rotate(3025)"/>
<circle class="t" cx="33.6" r="2.2" transform="rotate(3162.5)"/>
<circle cx="34.3" r="2.2" transform="rotate(3300)"/>
<circle cx="35" r="2.2" transform="rotate(3437.5)"/>
<circle cx="35.7" r="2.2" transform="rotate(3575)"/>
<circle class="a" cx="36.4" r="2.2" transform="rotate(3712.5)"/>
<circle cx="37" r="2.2" transform="rotate(3850)"/>
<circle cx="37.7" r="2.2" transform="rotate(3987.5)"/>
<circle class="o" cx="38.3" r="2.2" transform="rotate(4125)"/>
<circle cx="39" r="2.2" transform="rotate(4262.5)"/>
<circle cx="39.6" r="2.2" transform="rotate(4400)"/>
<circle cx="40.2" r="2.2" transform="rotate(4537.5)"/>
<circle class="b" cx="40.8" r="2.2" transform="rotate(4675)"/>
<circle cx="41.4" r="2.2" transform="rotate(4812.5)"/>
<circle cx="42" r="2.2" transform="rotate(4950)"/>
<circle cx="42.6" r="2.2" transform="rotate(5087.5)"/>
<circle class="r" cx="43.2" r="2.2" transform="rotate(5225)"/>
<circle cx="43.7" r="2.2" transform="rotate(5362.5)"/>
<circle cx="44.3" r="2.2" transform="rotate(5500)"/>
<circle class="a" cx="44.8" r="2.2" transform="rotate(5637.5)"/>
<circle cx="45.4" r="2.2" transform="rotate(5775)"/>
<circle cx="45.9" r="2.2" transform="rotate(5912.5)"/>
<circle cx="46.4" r="2.2" transform="rotate(6050)"/>
<circle class="t" cx="47" r="2.2" transform="rotate(6187.5)"/>
<circle cx="47.5" r="2.2" transform="rotate(6325)"/>
<circle cx="48" r="2.2" transform="rotate(6462.5)"/>
<circle cx="48.5" r="2.2" transform="rotate(6600)"/>
<circle class="y" cx="49" r="2.2" transform="rotate(6737.5)"/>
<circle cx="49.5" r="2.2" transform="rotate(6875)"/>
<circle cx="50" r="2.7" transform="rotate(7012.5)"/>
<circle cx="50.5" r="2.7" transform="rotate(7150)"/>
<circle class="b" cx="51" r="2.7" transform="rotate(7287.5)"/>
<circle cx="51.4" r="2.7" transform="rotate(7425)"/>
<circle cx="51.9" r="2.7" transform="rotate(7562.5)"/>
<circle class="o" cx="52.4" r="2.7" transform="rotate(7700)"/>
<circle cx="52.9" r="2.7" transform="rotate(7837.5)"/>
<circle class="p" cx="53.3" r="2.7" transform="rotate(7975)"/>
<circle cx="53.8" r="2.7" transform="rotate(8112.5)"/>
<circle class="a" cx="54.2" r="2.7" transform="rotate(8250)"/>
<circle cx="54.7" r="2.7" transform="rotate(8387.5)"/>
<circle cx="55.1" r="2.7" transform="rotate(8525)"/>
<circle class="r" cx="55.6" r="2.7" transform="rotate(8662.5)"/>
<circle cx="56" r="2.7" transform="rotate(8800)"/>
<circle cx="56.4" r="2.7" transform="rotate(8937.5)"/>
<circle cx="56.9" r="2.7" transform="rotate(9075)"/>
<circle class="t" cx="57.3" r="2.7" transform="rotate(9212.5)"/>
<circle cx="57.7" r="2.7" transform="rotate(9350)"/>
<circle cx="58.2" r="2.7" transform="rotate(9487.5)"/>
<circle cx="58.6" r="2.7" transform="rotate(9625)"/>
<circle class="a" cx="59" r="2.7" transform="rotate(9762.5)"/>
<circle cx="59.4" r="2.7" transform="rotate(9900)"/>
<circle cx="59.8" r="2.7" transform="rotate(10037.5)"/>
<circle class="b" cx="60.2" r="2.7" transform="rotate(10175)"/>
<circle cx="60.6" r="2.7" transform="rotate(10312.5)"/>
<circle cx="61" r="2.7" transform="rotate(10450)"/>
<circle cx="61.4" r="2.7" transform="rotate(10587.5)"/>
<circle class="y" cx="61.8" r="2.7" transform="rotate(10725)"/>
<circle cx="62.2" r="2.7" transform="rotate(10862.5)"/>
<circle cx="62.6" r="2.7" transform="rotate(11000)"/>
<circle cx="63" r="2.7" transform="rotate(11137.5)"/>
<circle class="o" cx="63.4" r="2.7" transform="rotate(11275)"/>
<circle cx="63.8" r="2.7" transform="rotate(11412.5)"/>
<circle cx="64.2" r="2.7" transform="rotate(11550)"/>
<circle class="r" cx="64.5" r="2.7" transform="rotate(11687.5)"/>
<circle cx="64.9" r="2.7" transform="rotate(11825)"/>
<circle cx="65.3" r="2.7" transform="rotate(11962.5)"/>
<circle cx="65.7" r="2.7" transform="rotate(12100)"/>
<circle class="a" cx="66" r="2.7" transform="rotate(12237.5)"/>
<circle cx="66.4" r="2.7" transform="rotate(12375)"/>
<circle cx="66.8" r="2.7" transform="rotate(12512.5)"/>
<circle cx="67.1" r="2.7" transform="rotate(12650)"/>
<circle class="t" cx="67.5" r="2.7" transform="rotate(12787.5)"/>
<circle cx="67.9" r="2.7" transform="rotate(12925)"/>
<circle cx="68.2" r="2.7" transform="rotate(13062.5)"/>
<circle class="b" cx="68.6" r="2.7" transform="rotate(13200)"/>
<circle cx="68.9" r="2.7" transform="rotate(13337.5)"/>
<circle cx="69.3" r="2.7" transform="rotate(13475)"/>
<circle cx="69.7" r="2.7" transform="rotate(13612.5)"/>
<circle class="a" cx="70" r="2.7" transform="rotate(13750)"/>
<circle cx="70.4" r="2.7" transform="rotate(13887.5)"/>
<circle cx="70.7" r="2.7" transform="rotate(14025)"/>
<circle cx="71" r="2.7" transform="rotate(14162.5)"/>
<circle class="r" cx="71.4" r="2.7" transform="rotate(14300)"/>
<circle cx="71.7" r="2.7" transform="rotate(14437.5)"/>
<circle cx="72.1" r="2.7" transform="rotate(14575)"/>
<circle class="y" cx="72.4" r="2.7" transform="rotate(14712.5)"/>
<circle cx="72.8" r="2.7" transform="rotate(14850)"/>
<circle cx="73.1" r="2.7" transform="rotate(14987.5)"/>
<circle cx="73.4" r="2.7" transform="rotate(15125)"/>
<circle class="o" cx="73.8" r="3.1" transform="rotate(15262.5)"/>
<circle cx="74.1" r="3.1" transform="rotate(15400)"/>
<circle cx="74.4" r="3.1" transform="rotate(15537.5)"/>
<circle cx="74.7" r="3.1" transform="rotate(15675)"/>
<circle class="t" cx="75.1" r="3.1" transform="rotate(15812.5)"/>
<circle cx="75.4" r="3.1" transform="rotate(15950)"/>
<circle cx="75.7" r="3.1" transform="rotate(16087.5)"/>
<circle class="a" cx="76" r="3.1" transform="rotate(16225)"/>
<circle cx="76.4" r="3.1" transform="rotate(16362.5)"/>
<circle class="p" cx="76.7" r="3.1" transform="rotate(16500)"/>
<circle cx="77" r="3.1" transform="rotate(16637.5)"/>
<circle class="b" cx="77.3" r="3.1" transform="rotate(16775)"/>
<circle cx="77.6" r="3.1" transform="rotate(16912.5)"/>
<circle cx="78" r="3.1" transform="rotate(17050)"/>
<circle cx="78.3" r="3.1" transform="rotate(17187.5)"/>
<circle class="r" cx="78.6" r="3.1" transform="rotate(17325)"/>
<circle cx="78.9" r="3.1" transform="rotate(17462.5)"/>
<circle cx="79.2" r="3.1" transform="rotate(17600)"/>
<circle class="a" cx="79.5" r="3.1" transform="rotate(17737.5)"/>
<circle cx="79.8" r="3.1" transform="rotate(17875)"/>
<circle cx="80.1" r="3.1" transform="rotate(18012.5)"/>
<circle cx="80.4" r="3.1" transform="rotate(18150)"/>
<circle class="o" cx="80.7" r="3.1" transform="rotate(18287.5)"/>
<circle cx="81" r="3.1" transform="rotate(18425)"/>
<circle cx="81.3" r="3.1" transform="rotate(18562.5)"/>
<circle cx="81.6" r="3.1" transform="rotate(18700)"/>
<circle class="b" cx="81.9" r="3.1" transform="rotate(18837.5)"/>
<circle cx="82.2" r="3.1" transform="rotate(18975)"/>
<circle cx="82.5" r="3.1" transform="rotate(19112.5)"/>
<circle class="t" cx="82.8" r="3.1" transform="rotate(19250)"/>
<circle cx="83.1" r="3.1" transform="rotate(19387.5)"/>
<circle cx="83.4" r="3.1" transform="rotate(19525)"/>
<circle cx="83.7" r="3.1" transform="rotate(19662.5)"/>
<circle class="y" cx="84" r="3.1" transform="rotate(19800)"/>
<circle cx="84.3" r="3.1" transform="rotate(19937.5)"/>
<circle cx="84.6" r="3.1" transform="rotate(20075)"/>
<circle cx="84.9" r="3.1" transform="rotate(20212.5)"/>
<circle class="r" cx="85.2" r="3.1" transform="rotate(20350)"/>
<circle cx="85.4" r="3.1" transform="rotate(20487.5)"/>
<circle cx="85.7" r="3.1" transform="rotate(20625)"/>
<circle class="a" cx="86" r="3.1" transform="rotate(20762.5)"/>
<circle cx="86.3" r="3.1" transform="rotate(20900)"/>
<circle cx="86.6" r="3.1" transform="rotate(21037.5)"/>
<circle cx="86.9" r="3.1" transform="rotate(21175)"/>
<circle class="b" cx="87.1" r="3.1" transform="rotate(21312.5)"/>
<circle cx="87.4" r="3.1" transform="rotate(21450)"/>
<circle cx="87.7" r="3.1" transform="rotate(21587.5)"/>
<circle cx="88" r="3.1" transform="rotate(21725)"/>
<circle class="o" cx="88.3" r="3.1" transform="rotate(21862.5)"/>
<circle cx="88.5" r="3.1" transform="rotate(22000)"/>
<circle cx="88.8" r="3.1" transform="rotate(22137.5)"/>
<circle class="t" cx="89.1" r="3.1" transform="rotate(22275)"/>
<circle cx="89.4" r="3.1" transform="rotate(22412.5)"/>
<circle cx="89.6" r="3.1" transform="rotate(22550)"/>
<circle cx="89.9" r="3.1" transform="rotate(22687.5)"/>
<circle class="a" cx="90.2" r="3.1" transform="rotate(22825)"/>
<circle cx="90.5" r="3.1" transform="rotate(22962.5)"/>
<circle cx="90.7" r="3.1" transform="rotate(23100)"/>
<circle cx="91" r="3.1" transform="rotate(23237.5)"/>
<circle class="b" cx="91.3" r="3.1" transform="rotate(23375)"/>
<circle cx="91.5" r="3.1" transform="rotate(23512.5)"/>
<circle cx="91.8" r="3.1" transform="rotate(23650)"/>
<circle class="r" cx="92.1" r="3.1" transform="rotate(23787.5)"/>
<circle cx="92.3" r="3.1" transform="rotate(23925)"/>
<circle cx="92.6" r="3.1" transform="rotate(24062.5)"/>
<circle class="p" cx="92.9" r="3.1" transform="rotate(24200)"/>
<circle class="y" cx="93.1" r="3.1" transform="rotate(24337.5)"/>
<circle cx="93.4" r="3.1" transform="rotate(24475)"/>
<circle cx="93.7" r="3.1" transform="rotate(24612.5)"/>
<circle cx="93.9" r="3.1" transform="rotate(24750)"/>
<circle class="a" cx="94.2" r="3.6" transform="rotate(24887.5)"/>
<circle cx="94.4" r="3.6" transform="rotate(25025)"/>
<circle cx="94.7" r="4.5" transform="rotate(25162.5)"/>
<circle class="o" cx="95" r="3.6" transform="rotate(25300)"/>
<circle cx="95.2" r="3.6" transform="rotate(25437.5)"/>
<circle cx="95.5" r="3.6" transform="rotate(25575)"/>
<circle cx="95.7" r="3.6" transform="rotate(25712.5)"/>
<circle class="b" cx="96" r="4.2" transform="rotate(25850)"/>
<circle cx="96.2" r="3.6" transform="rotate(25987.5)"/>
<circle cx="96.5" r="3.6" transform="rotate(26125)"/>
<circle cx="96.7" r="3.6" transform="rotate(26262.5)"/>
<circle class="t" cx="97" r="3.6" transform="rotate(26400)"/>
<circle cx="97.2" r="3.6" transform="rotate(26537.5)"/>
<circle cx="97.5" r="3.6" transform="rotate(26675)"/>
<circle class="r" cx="97.8" r="3.6" transform="rotate(26812.5)"/>
<circle cx="98" r="3.6" transform="rotate(26950)"/>
<circle cx="98.3" r="4.5" transform="rotate(27087.5)"/>
<circle cx="98.5" r="3.6" transform="rotate(27225)"/>
<circle class="a" cx="98.8" r="3.6" transform="rotate(27362.5)"/>
<circle cx="99" r="3.6" transform="rotate(27500)"/>
<circle cx="99.2" r="3.6" transform="rotate(27637.5)"/>
<circle cx="99.5" r="3.6" transform="rotate(27775)"/>
<circle class="b" cx="99.7" r="4.5" transform="rotate(27912.5)"/>
<circle cx="100" r="3.6" transform="rotate(28050)"/>
<circle cx="100.2" r="3.6" transform="rotate(28187.5)"/>
<circle class="o" cx="100.5" r="3.6" transform="rotate(28325)"/>
<circle cx="100.7" r="3.6" transform="rotate(28462.5)"/>
<circle cx="101" r="3.6" transform="rotate(28600)"/>
<circle cx="101.2" r="3.6" transform="rotate(28737.5)"/>
<circle class="y" cx="101.4" r="3.6" transform="rotate(28875)"/>
<circle cx="101.7" r="3.6" transform="rotate(29012.5)"/>
<circle cx="101.9" r="5" transform="rotate(29150)"/>
<circle cx="102.2" r="3.6" transform="rotate(29287.5)"/>
<circle class="r" cx="102.4" r="3.6" transform="rotate(29425)"/>
<circle cx="102.6" r="3.6" transform="rotate(29562.5)"/>
<circle cx="102.9" r="3.6" transform="rotate(29700)"/>
<circle class="b" cx="103.1" r="4.5" transform="rotate(29837.5)"/>
<circle cx="103.4" r="3.6" transform="rotate(29975)"/>
<circle cx="103.6" r="3.6" transform="rotate(30112.5)"/>
<circle cx="103.8" r="3.6" transform="rotate(30250)"/>
<circle class="t" cx="104.1" r="3.6" transform="rotate(30387.5)"/>
<circle cx="104.3" r="3.6" transform="rotate(30525)"/>
<circle cx="104.5" r="3.6" transform="rotate(30662.5)"/>
<circle cx="104.8" r="3.6" transform="rotate(30800)"/>
<circle class="a" cx="105" r="3.6" transform="rotate(30937.5)"/>
<circle cx="105.2" r="3.6" transform="rotate(31075)"/>
<circle cx="105.5" r="3.6" transform="rotate(31212.5)"/>
<circle class="o" cx="105.7" r="4" transform="rotate(31350)"/>
<circle cx="105.9" r="4.5" transform="rotate(31487.5)"/>
<circle cx="106.2" r="3.6" transform="rotate(31625)"/>
<circle cx="106.4" r="3.6" transform="rotate(31762.5)"/>
<circle class="b" cx="106.6" r="4.5" transform="rotate(31900)"/>
<circle cx="106.9" r="3.6" transform="rotate(32037.5)"/>
<circle cx="107.1" r="3.6" transform="rotate(32175)"/>
<circle cx="107.3" r="3.6" transform="rotate(32312.5)"/>
<circle class="r" cx="107.5" r="3.6" transform="rotate(32450)"/>
<circle cx="107.8" r="3.6" transform="rotate(32587.5)"/>
<circle cx="108" r="3.6" transform="rotate(32725)"/>
<circle class="a" cx="108.2" r="3.6" transform="rotate(32862.5)"/>
<circle cx="108.4" r="3.6" transform="rotate(33000)"/>
<circle cx="108.7" r="5" transform="rotate(33137.5)"/>
<circle cx="108.9" r="3.6" transform="rotate(33275)"/>
<circle class="b" cx="109.1" r="4.5" transform="rotate(33412.5)"/>
<circle cx="109.3" r="3.6" transform="rotate(33550)"/>
<circle cx="109.6" r="3.6" transform="rotate(33687.5)"/>
<circle cx="109.8" r="4.5" transform="rotate(33825)"/>
<circle class="o" cx="110" r="4" transform="rotate(33962.5)"/>
<circle cx="110.2" r="3.6" transform="rotate(34100)"/>
<circle cx="110.5" r="3.6" transform="rotate(34237.5)"/>
<circle class="t" cx="110.7" r="4" transform="rotate(34375)"/>
<circle cx="110.9" r="3.6" transform="rotate(34512.5)"/>
<circle cx="111.1" r="4.5" transform="rotate(34650)"/>
<circle cx="111.3" r="3.6" transform="rotate(34787.5)"/>
<circle class="r" cx="111.6" r="4" transform="rotate(34925)"/>
<circle cx="111.8" r="3.6" transform="rotate(35062.5)"/>
<circle cx="112" r="3.6" transform="rotate(35200)"/>
<circle cx="112.2" r="3.6" transform="rotate(35337.5)"/>
<circle class="b" cx="112.4" r="4.5" transform="rotate(35475)"/>
<circle cx="112.7" r="3.6" transform="rotate(35612.5)"/>
<circle cx="112.9" r="3.6" transform="rotate(35750)"/>
<circle cx="-88" cy="-84" r="7.5"/>
<circle class="p" cx="-106" cy="-53" r="5.5"/>
<circle class="o" cx="101" cy="-41" r="5.5"/>
<circle cx="106" cy="14" r="5"/>
</g>
</g>

<g id="hubs">
<g id="TRPM8-top"><circle class="hub" cx="185" cy="25" r="6"/><text class="b" x="185" y="28" font-size="11.5" text-anchor="middle">TRPM8</text></g>
<g id="TRPM8-left"><circle class="hub" cx="28" cy="207" r="5.5"/><text x="28" y="210" font-size="10" text-anchor="middle">TRPM8</text></g>
<g id="TRPA1"><circle class="hub" cx="121" cy="160" r="4"/><text x="120" y="162" font-size="7" text-anchor="middle">TRPA1</text></g>
<g id="Trpv4"><circle class="hub" cx="424" cy="127" r="7"/><text x="423" y="131" font-size="13.3" text-anchor="middle">Trpv4</text></g>
<g id="Trpv2"><circle class="hub" cx="462" cy="215" r="6.5"/><text x="462" y="220" font-size="13.3" text-anchor="middle">Trpv2</text></g>
<g id="TRPC3"><circle class="hub" cx="552" cy="141" r="4.5"/><text class="b" x="552" y="143" font-size="8.2" text-anchor="middle">TRPC3</text></g>
<g id="Trpc6"><circle class="hub" cx="518" cy="136" r="2.2"/><text x="518" y="138" font-size="5" text-anchor="middle">Trpc6</text></g>
<g id="TRPM6"><circle class="hub" cx="573" cy="222" r="5.5"/><text class="b" x="573" y="226" font-size="11.8" text-anchor="middle">TRPM6</text></g>
<g id="Trpm7"><circle class="hub" cx="597" cy="311" r="3"/><text x="598" y="314" font-size="7.5" text-anchor="middle">Trpm7</text></g>
<g id="trpC"><circle class="hub" cx="91" cy="332" r="2.8"/><text class="b" x="90" y="334" font-size="7" text-anchor="middle">trpC</text></g>
<g id="Trpc4"><circle class="hub" cx="37" cy="366" r="2.5"/><text x="37" y="367" font-size="6.5" text-anchor="middle">Trpc4</text></g>
<g id="Trp-small"><circle class="hub" cx="292" cy="109" r="1.5"/><text x="292" y="110" font-size="3.5" text-anchor="middle">Trpa</text></g>
<g id="Trpv1"><circle class="hub" cx="314" cy="379" r="7.5"/><text x="314" y="384" font-size="14.5" text-anchor="middle">Trpv1</text></g>
</g>

<g id="drug-labels">
<text x="64" y="172" font-size="10" text-anchor="middle">ICILLIN</text>
<text class="b" x="105" y="180" font-size="11" text-anchor="middle">NIFEDIPINE</text>
<text x="123" y="187" font-size="5" text-anchor="middle">AP18.5</text>
<text class="b" x="402" y="221" font-size="8" text-anchor="middle">OLVANIL</text>
<text class="b" x="417" y="279.5" font-size="9" text-anchor="middle">ANANDAMIDE</text>
<text class="b" x="432" y="289.5" font-size="9" text-anchor="middle">OLEOYLETHANOLAMIDE</text>
<text class="b" x="375" y="301" font-size="10.5" text-anchor="middle">HALOPERIDOL</text>
<text class="b" x="390" y="313" font-size="10.5" text-anchor="middle">CAPTOPRIL</text>
<text x="416" y="357" font-size="9.7" text-anchor="middle">TRIFLUPROMAZINE HYDROCHLORIDE</text>
<text class="b" x="425" y="377" font-size="15" text-anchor="middle">CHLORPROMAZINE</text>
<text class="b" x="204" y="409" font-size="9.5" text-anchor="middle">INDOMETHACIN</text>
<text class="b" x="222" y="417" font-size="7" text-anchor="middle">SB-705498</text>
<text class="b" x="294" y="477" font-size="9" text-anchor="middle">SANGUINARIUM CHLORIDE</text>
<text class="b" x="97" y="299" font-size="12.5" text-anchor="middle">CLOTRIMAZOLE</text>
<text class="b" x="55" y="379" font-size="12" text-anchor="middle">FLUSPIRILENE</text>
<text class="b" x="580" y="327" font-size="9" text-anchor="middle">EMETINE</text>
</g>
</svg>
